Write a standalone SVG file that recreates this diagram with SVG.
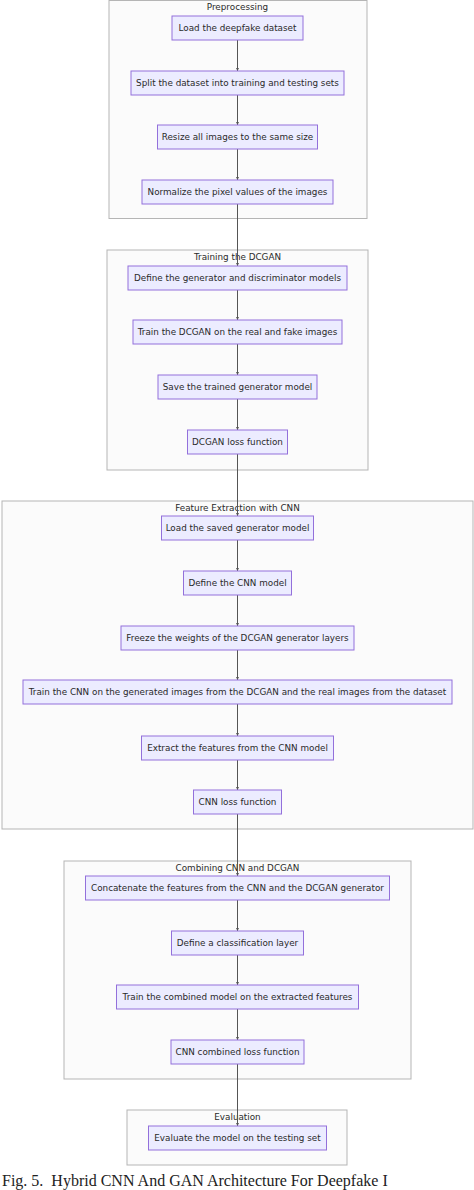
<svg xmlns="http://www.w3.org/2000/svg" width="474" height="1190" viewBox="0 0 474 1190">
<style>
.cl{fill:#fbfbfb;stroke:#b5b5b5;stroke-width:1}
.nd{fill:#ececff;stroke:#9370db;stroke-width:1}
.t{font-family:"DejaVu Sans",Verdana,sans-serif;font-size:8.8px;fill:#2a2a2a;text-anchor:middle;dominant-baseline:central}
.e{stroke:#555;stroke-width:1;fill:none;marker-end:url(#ah)}
.cap{font-family:"Liberation Serif","Times New Roman",serif;font-size:16px;fill:#222}
</style>
<defs>
<marker id="ah" viewBox="0 0 6 6" refX="6" refY="3" markerWidth="3" markerHeight="3" orient="auto" markerUnits="userSpaceOnUse">
<path d="M0,0L6,3L0,6z" fill="#555"/>
</marker>
</defs>
<rect width="474" height="1190" fill="#fff"/>
<g id="clusters">
<g id="c-pre"><rect class="cl" x="109" y="0.5" width="258" height="218"/><text class="t" x="237.5" y="7">Preprocessing</text></g>
<g id="c-train"><rect class="cl" x="107" y="250" width="261" height="220"/><text class="t" x="237.5" y="257">Training the DCGAN</text></g>
<g id="c-feat"><rect class="cl" x="2" y="501" width="471" height="328"/><text class="t" x="237.5" y="507.5">Feature Extraction with CNN</text></g>
<g id="c-comb"><rect class="cl" x="64" y="861" width="347" height="218"/><text class="t" x="237.5" y="867.5">Combining CNN and DCGAN</text></g>
<g id="c-eval"><rect class="cl" x="127" y="1110" width="220" height="55"/><text class="t" x="237.5" y="1116.5">Evaluation</text></g>
</g>
<g id="connectors">
<line class="e" x1="237.5" y1="40" x2="237.5" y2="71"/>
<line class="e" x1="237.5" y1="95" x2="237.5" y2="125"/>
<line class="e" x1="237.5" y1="149" x2="237.5" y2="180"/>
<line class="e" x1="237.5" y1="204" x2="237.5" y2="266"/>
<line class="e" x1="237.5" y1="290" x2="237.5" y2="320"/>
<line class="e" x1="237.5" y1="344" x2="237.5" y2="375"/>
<line class="e" x1="237.5" y1="399" x2="237.5" y2="430"/>
<line class="e" x1="237.5" y1="454" x2="237.5" y2="516"/>
<line class="e" x1="237.5" y1="540" x2="237.5" y2="571"/>
<line class="e" x1="237.5" y1="595" x2="237.5" y2="626"/>
<line class="e" x1="237.5" y1="650" x2="237.5" y2="680"/>
<line class="e" x1="237.5" y1="704" x2="237.5" y2="736"/>
<line class="e" x1="237.5" y1="760" x2="237.5" y2="790"/>
<line class="e" x1="237.5" y1="814" x2="237.5" y2="876"/>
<line class="e" x1="237.5" y1="900" x2="237.5" y2="931"/>
<line class="e" x1="237.5" y1="955" x2="237.5" y2="985"/>
<line class="e" x1="237.5" y1="1009" x2="237.5" y2="1040"/>
<line class="e" x1="237.5" y1="1064" x2="237.5" y2="1126"/>
</g>
<g id="n1"><rect class="nd" x="172" y="16" width="131" height="24"/><text class="t" x="237.5" y="28">Load the deepfake dataset</text></g>
<g id="n2"><rect class="nd" x="131" y="71" width="213" height="24"/><text class="t" x="237.5" y="83">Split the dataset into training and testing sets</text></g>
<g id="n3"><rect class="nd" x="157.5" y="125" width="160" height="24"/><text class="t" x="237.5" y="137">Resize all images to the same size</text></g>
<g id="n4"><rect class="nd" x="142" y="180" width="191" height="24"/><text class="t" x="237.5" y="192">Normalize the pixel values of the images</text></g>
<g id="t1"><rect class="nd" x="128" y="266" width="219" height="24"/><text class="t" x="237.5" y="278">Define the generator and discriminator models</text></g>
<g id="t2"><rect class="nd" x="133" y="320" width="209" height="24"/><text class="t" x="237.5" y="332">Train the DCGAN on the real and fake images</text></g>
<g id="t3"><rect class="nd" x="158" y="375" width="159" height="24"/><text class="t" x="237.5" y="387">Save the trained generator model</text></g>
<g id="t4"><rect class="nd" x="187.5" y="430" width="100" height="24"/><text class="t" x="237.5" y="442">DCGAN loss function</text></g>
<g id="f1"><rect class="nd" x="161.5" y="516" width="152" height="24"/><text class="t" x="237.5" y="528">Load the saved generator model</text></g>
<g id="f2"><rect class="nd" x="183.5" y="571" width="108" height="24"/><text class="t" x="237.5" y="583">Define the CNN model</text></g>
<g id="f3"><rect class="nd" x="121" y="626" width="233" height="24"/><text class="t" x="237.5" y="638">Freeze the weights of the DCGAN generator layers</text></g>
<g id="f4"><rect class="nd" x="23" y="680" width="429" height="24"/><text class="t" x="237.5" y="692">Train the CNN on the generated images from the DCGAN and the real images from the dataset</text></g>
<g id="f5"><rect class="nd" x="141.5" y="736" width="192" height="24"/><text class="t" x="237.5" y="748">Extract the features from the CNN model</text></g>
<g id="f6"><rect class="nd" x="193.5" y="790" width="88" height="24"/><text class="t" x="237.5" y="802">CNN loss function</text></g>
<g id="m1"><rect class="nd" x="85.5" y="876" width="304" height="24"/><text class="t" x="237.5" y="888">Concatenate the features from the CNN and the DCGAN generator</text></g>
<g id="m2"><rect class="nd" x="171.5" y="931" width="132" height="24"/><text class="t" x="237.5" y="943">Define a classification layer</text></g>
<g id="m3"><rect class="nd" x="116.5" y="985" width="242" height="24"/><text class="t" x="237.5" y="997">Train the combined model on the extracted features</text></g>
<g id="m4"><rect class="nd" x="171" y="1040" width="133" height="24"/><text class="t" x="237.5" y="1052">CNN combined loss function</text></g>
<g id="e1"><rect class="nd" x="148.5" y="1126" width="178" height="24"/><text class="t" x="237.5" y="1138">Evaluate the model on the testing set</text></g>
<text class="cap" x="2" y="1185.5" xml:space="preserve">Fig. 5.  Hybrid CNN And GAN Architecture For Deepfake I</text>
</svg>
